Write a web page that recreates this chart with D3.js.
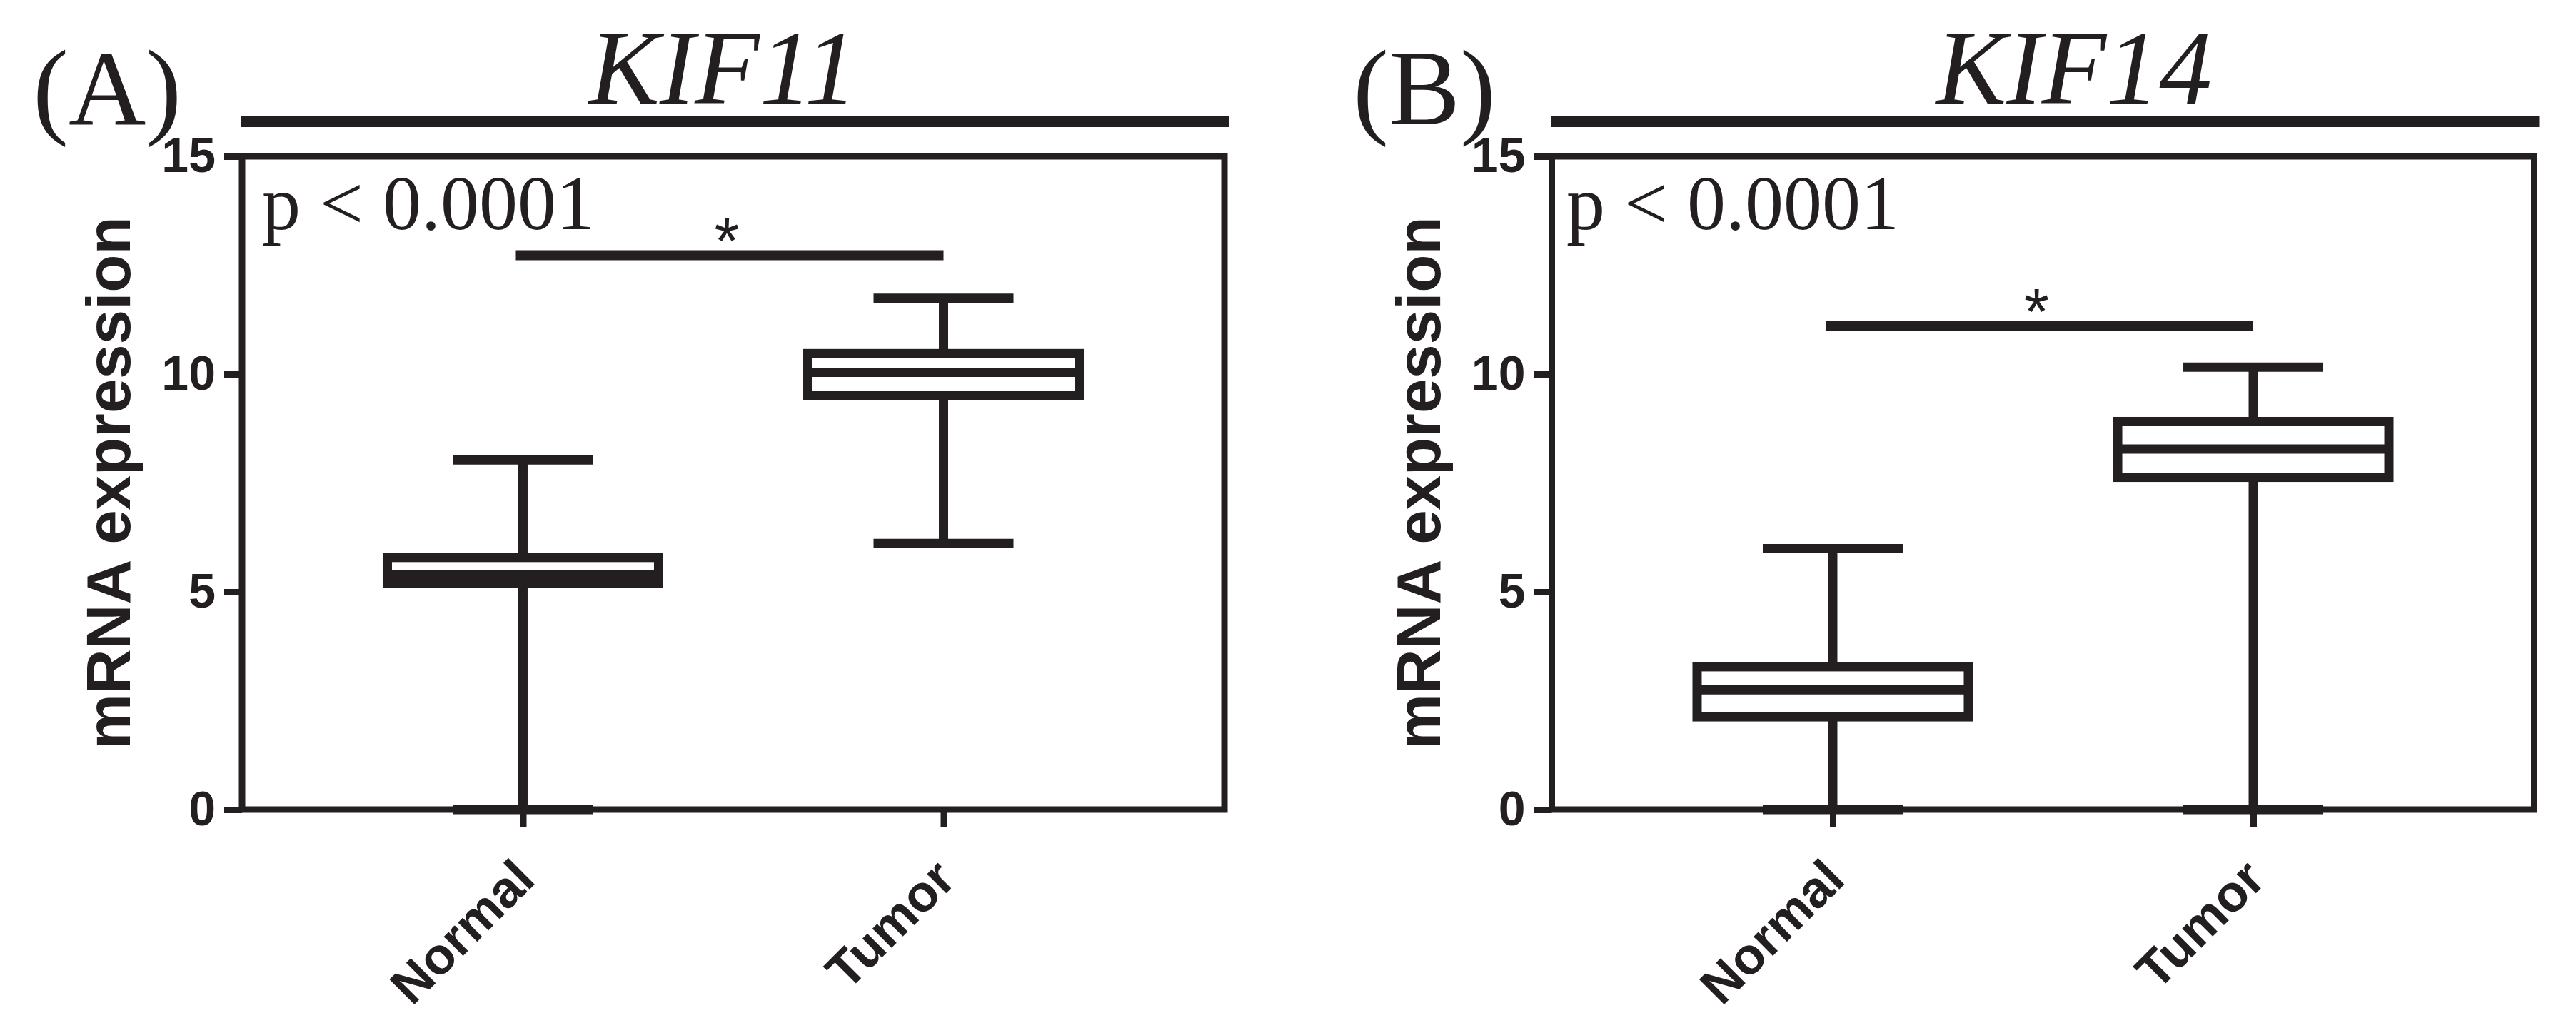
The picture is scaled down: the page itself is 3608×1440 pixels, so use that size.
<!DOCTYPE html>
<html>
<head>
<meta charset="utf-8">
<script src="https://cdn.jsdelivr.net/npm/d3@7.9.0/dist/d3.min.js"></script>
<style>
  body { margin: 0; background: #fff; }
  svg { display: block; }
</style>
</head>
<body>
<svg id="chart" width="3608" height="1440"></svg>
<script>
// data
const panelLabels = ["(A)", "(B)"];
const genes = ["KIF11", "KIF14"];
const groups = ["Normal", "Tumor"];
const whiskerLow  = [[0, 6.11], [0, 0]];
const q1          = [[5.19, 9.50], [2.13, 7.63]];
const medians     = [[5.40, 10.04], [2.75, 8.28]];
const q3          = [[5.79, 10.47], [3.28, 8.91]];
const whiskerHigh = [[8.03, 11.74], [5.99, 10.16]];
const sigLevel = [12.73, 11.11];
const pLabels = ["p < 0.0001", "p < 0.0001"];
const yTicks = [0, 5, 10, 15];

const ink = '#231f20';
const svg = d3.select('#chart');

// per panel layout
const plotLeft = [339, 2173.5];
const titleX = [1013, 2905];
const panelLabelX = [46, 1895];
const pTextX = [367, 2194];
const plotW = 1376, plotTop = 219, plotBottom = 1134;

const y = d3.scaleLinear().domain([0, 15]).range([plotBottom, plotTop]);

panelLabels.forEach((lab, p) => {
    const left = plotLeft[p], right = left + plotW;
    const g = svg.append('g');
    const x = d3.scalePoint().domain(groups).range([left, right]).padding(0.668);

    // panel letter + gene title
    g.append('text').attr('x', panelLabelX[p]).attr('y', 174)
      .style('font', '150px "Liberation Serif"').attr('fill', ink).text(lab);
    g.append('text').attr('x', titleX[p]).attr('y', 145).attr('text-anchor', 'middle')
      .style('font', 'italic 148px "Liberation Serif"').attr('fill', ink).text(genes[p]);
    g.append('line').attr('x1', left - 1).attr('x2', right + 7).attr('y1', 170).attr('y2', 170)
      .attr('stroke', ink).attr('stroke-width', 16);

    // frame
    g.append('rect').attr('x', left).attr('y', plotTop).attr('width', plotW).attr('height', plotBottom - plotTop)
      .attr('fill', 'none').attr('stroke', ink).attr('stroke-width', 9);

    // y axis ticks
    const ya = g.append('g').attr('transform', `translate(${left},0)`)
      .call(d3.axisLeft(y).tickValues(yTicks).tickSize(25).tickPadding(12).tickSizeOuter(0));
    ya.select('.domain').remove();
    ya.selectAll('line').attr('stroke', ink).attr('stroke-width', 9);
    ya.selectAll('text').attr('fill', ink)
      .style('font', 'bold 68px "Liberation Sans"');

    // x axis ticks
    const xa = g.append('g').attr('transform', `translate(0,${plotBottom})`)
      .call(d3.axisBottom(x).tickSize(25).tickSizeOuter(0));
    xa.select('.domain').remove();
    xa.selectAll('line').attr('stroke', ink).attr('stroke-width', 9);
    xa.selectAll('text').remove();
    groups.forEach(gr => {
        g.append('text')
          .attr('transform', `translate(${x(gr) + 20},${1235}) rotate(-45)`)
          .attr('text-anchor', 'end')
          .style('font', 'bold 72px "Liberation Sans"').attr('fill', ink).text(gr);
    });

    // y axis title
    g.append('text')
      .attr('transform', `translate(${left - 157},${(plotTop + plotBottom) / 2}) rotate(-90)`)
      .attr('text-anchor', 'middle')
      .style('font', 'bold 87px "Liberation Sans"').attr('fill', ink).text('mRNA expression');

    // boxes
    const boxW = 380, capW = 196, sw = 13;
    groups.forEach((gr, i) => {
        const cx = x(gr);
        g.append('line').attr('x1', cx).attr('x2', cx)
          .attr('y1', y(whiskerLow[p][i])).attr('y2', y(whiskerHigh[p][i]))
          .attr('stroke', ink).attr('stroke-width', sw);
        [whiskerLow[p][i], whiskerHigh[p][i]].forEach(v => {
            g.append('line').attr('x1', cx - capW / 2).attr('x2', cx + capW / 2)
              .attr('y1', y(v)).attr('y2', y(v))
              .attr('stroke', ink).attr('stroke-width', sw);
        });
        g.append('rect').attr('x', cx - boxW / 2).attr('y', y(q3[p][i]))
          .attr('width', boxW).attr('height', y(q1[p][i]) - y(q3[p][i]))
          .attr('fill', '#fff').attr('stroke', ink).attr('stroke-width', sw);
        g.append('line').attr('x1', cx - boxW / 2).attr('x2', cx + boxW / 2)
          .attr('y1', y(medians[p][i])).attr('y2', y(medians[p][i]))
          .attr('stroke', ink).attr('stroke-width', sw);
    });

    // significance bar
    const x1 = x(groups[0]) - 10, x2 = x(groups[1]);
    g.append('line').attr('x1', x1).attr('x2', x2)
      .attr('y1', y(sigLevel[p])).attr('y2', y(sigLevel[p]))
      .attr('stroke', ink).attr('stroke-width', 14);
    g.append('text').attr('x', (x1 + x2) / 2 - 4).attr('y', y(sigLevel[p]) + 12)
      .attr('text-anchor', 'middle')
      .style('font', '90px "Liberation Sans"').attr('fill', ink).text('*');

    // p value
    g.append('text').attr('x', pTextX[p]).attr('y', 321)
      .style('font', '108px "Liberation Serif"').attr('fill', ink).text(pLabels[p]);
});
</script>
</body>
</html>
